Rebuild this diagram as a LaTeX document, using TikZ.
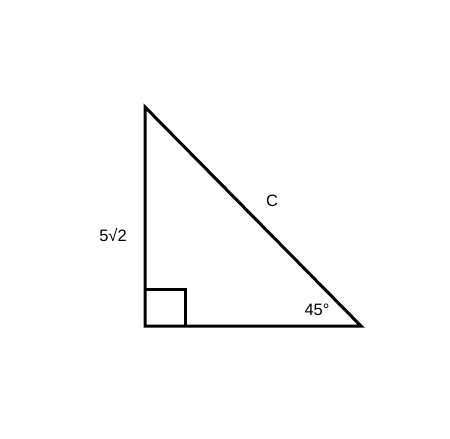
\documentclass[tikz,border=0pt]{standalone}
\usepackage{fontspec}
\setmainfont{Liberation Sans}
\begin{document}
\begin{tikzpicture}[x=1pt,y=-1pt,
  edge/.style={line width=3pt,line join=miter},
  lbl/.style={font=\fontsize{16.5}{19}\selectfont,inner sep=0pt}]
\useasboundingbox[fill=white] (0,0) rectangle (450,439);
\coordinate (A) at (145,107);
\coordinate (B) at (145,326);
\coordinate (R) at (361,326);
\coordinate (S1) at (145,289);
\coordinate (S2) at (185,289);
\coordinate (S3) at (185,326);
\draw[edge] (A) -- (B) -- (R) -- cycle;
\draw[edge] (S1) -- (S2) -- (S3);
\node[lbl] (side) at (113,235) {5√2};
\node[lbl] (hyp) at (272,201) {C};
\node[lbl] (ang) at (317,310) {45°};
\end{tikzpicture}
\end{document}
